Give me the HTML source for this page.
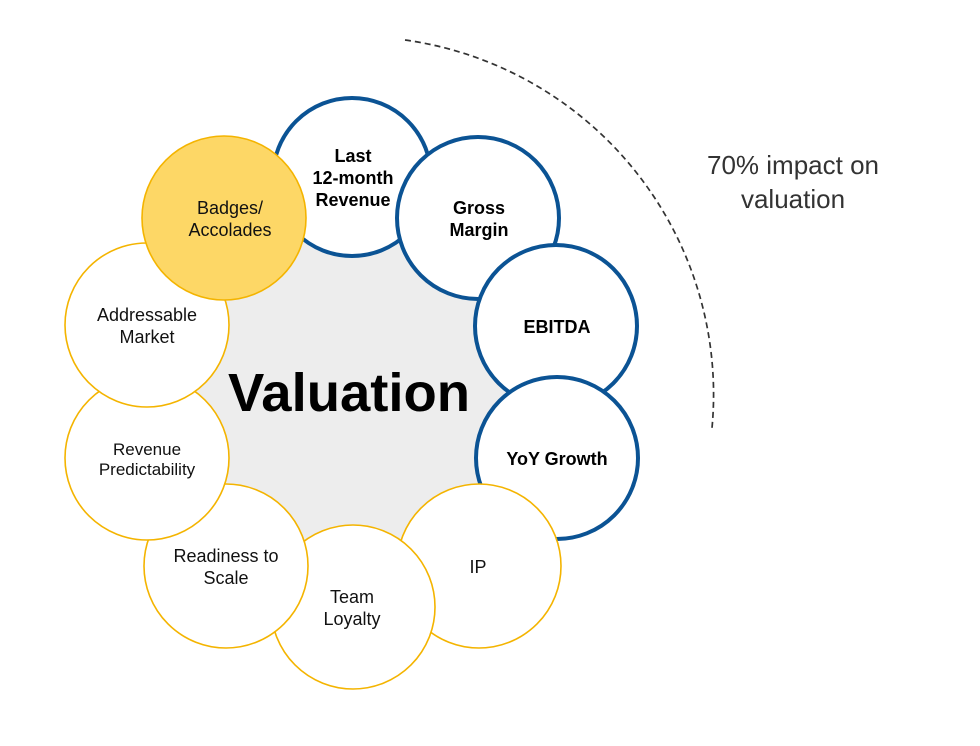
<!DOCTYPE html>
<html><head><meta charset="utf-8"><style>html,body{margin:0;padding:0;background:#fff}svg{display:block}</style></head>
<body>
<svg width="980" height="746" viewBox="0 0 980 746" xmlns="http://www.w3.org/2000/svg" font-family="'Liberation Sans', sans-serif">
<rect width="980" height="746" fill="#fff"/>
<circle cx="352" cy="392" r="200" fill="#ededed"/>
<path d="M405,40 A358,358 0 0 1 712,428" fill="none" stroke="#333" stroke-width="1.7" stroke-dasharray="6,4"/>
<g fill="#fff" stroke="#0b5394" stroke-width="4">
<circle cx="352" cy="177" r="79"/>
<circle cx="478" cy="218" r="81"/>
<circle cx="556" cy="326" r="81"/>
<circle cx="557" cy="458" r="81"/>
</g>
<g fill="#fff" stroke="#f4b400" stroke-width="1.6">
<circle cx="479" cy="566" r="82"/>
<circle cx="353" cy="607" r="82"/>
<circle cx="226" cy="566" r="82"/>
<circle cx="147" cy="458" r="82"/>
<circle cx="147" cy="325" r="82"/>
<circle cx="224" cy="218" r="82" fill="#fdd766"/>
</g>
<g font-size="18" font-weight="bold" fill="#000" text-anchor="middle">
<text x="353" y="162">Last</text>
<text x="353" y="184">12-month</text>
<text x="353" y="206">Revenue</text>
<text x="479" y="214">Gross</text>
<text x="479" y="236">Margin</text>
<text x="557" y="333">EBITDA</text>
<text x="557" y="465">YoY Growth</text>
</g>
<g font-size="18" fill="#111" text-anchor="middle">
<text x="230" y="214">Badges/</text>
<text x="230" y="236">Accolades</text>
<text x="147" y="321">Addressable</text>
<text x="147" y="343">Market</text>
<text x="147" y="455" font-size="17">Revenue</text>
<text x="147" y="475" font-size="17">Predictability</text>
<text x="226" y="562">Readiness to</text>
<text x="226" y="584">Scale</text>
<text x="352" y="603">Team</text>
<text x="352" y="625">Loyalty</text>
<text x="478" y="573">IP</text>
</g>
<text x="349" y="411" font-size="54" font-weight="bold" text-anchor="middle" textLength="242" lengthAdjust="spacingAndGlyphs">Valuation</text>
<g font-size="26" fill="#333" text-anchor="middle">
<text x="793" y="174">70% impact on</text>
<text x="793" y="208">valuation</text>
</g>
</svg>
</body></html>
